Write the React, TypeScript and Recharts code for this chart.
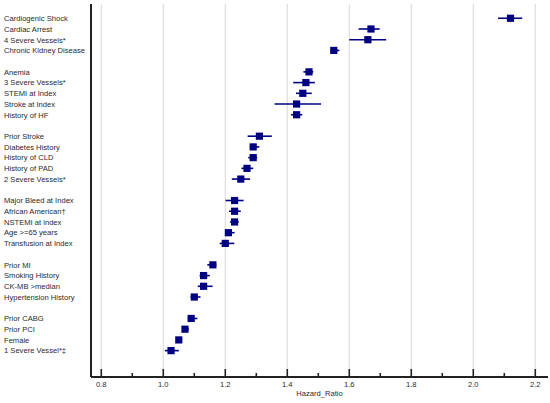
import React from 'react';
import { ScatterChart, Scatter, XAxis, YAxis, ErrorBar, ReferenceLine, Label } from 'recharts';

// predictors, top to bottom, in the blocks the plot separates with a blank row
const groups: string[][] = [
  ['Cardiogenic Shock', 'Cardiac Arrest', '4 Severe Vessels*', 'Chronic Kidney Disease'],
  ['Anemia', '3 Severe Vessels*', 'STEMI at Index', 'Stroke at Index', 'History of HF'],
  ['Prior Stroke', 'Diabetes History', 'History of CLD', 'History of PAD', '2 Severe Vessels*'],
  ['Major Bleed at Index', 'African American\u2020', 'NSTEMI at index', 'Age >=65 years', 'Transfusion at Index'],
  ['Prior MI', 'Smoking History', 'CK-MB >median', 'Hypertension History'],
  ['Prior CABG', 'Prior PCI', 'Female', '1 Severe Vessel*\u2021'],
];

const hazardRatio = [
  2.12, 1.67, 1.66, 1.55,
  1.47, 1.46, 1.45, 1.43, 1.43,
  1.31, 1.29, 1.29, 1.27, 1.25,
  1.23, 1.23, 1.23, 1.21, 1.2,
  1.16, 1.13, 1.13, 1.1,
  1.09, 1.07, 1.05, 1.025,
];

const lowerCI = [
  2.08, 1.63, 1.6, 1.54,
  1.452, 1.419, 1.428, 1.359, 1.412,
  1.272, 1.28, 1.274, 1.252, 1.221,
  1.201, 1.212, 1.215, 1.199, 1.182,
  1.142, 1.117, 1.111, 1.088,
  1.079, 1.061, 1.041, 1.005,
];

const upperCI = [
  2.158, 1.698, 1.719, 1.568,
  1.484, 1.489, 1.479, 1.509, 1.448,
  1.35, 1.31, 1.303, 1.29, 1.28,
  1.259, 1.25, 1.243, 1.23, 1.229,
  1.171, 1.15, 1.159, 1.12,
  1.11, 1.082, 1.059, 1.05,
];

const majorTicks = [0.8, 1.0, 1.2, 1.4, 1.6, 1.8, 2.0, 2.2];
const minorTicks = [0.9, 1.1, 1.3, 1.5, 1.7, 1.9, 2.1];

const FONT = '"Liberation Sans", Arial, sans-serif';
const NAVY = '#000080';

const data: { name: string; row: number; hr: number; ci: number[] }[] = [];
{
  let row = 0;
  let i = 0;
  groups.forEach((g) => {
    g.forEach((name) => {
      data.push({ name, row, hr: hazardRatio[i], ci: [hazardRatio[i] - lowerCI[i], upperCI[i] - hazardRatio[i]] });
      row++;
      i++;
    });
    row++;
  });
}

const labelByRow: Record<number, string> = {};
data.forEach((d) => (labelByRow[d.row] = d.name));

const allTicks = [...majorTicks, ...minorTicks].sort((a, b) => a - b);

const YTick = (props: any) => {
  const { y, payload } = props;
  return (
    <text x={4} y={y} dy={2.8} textAnchor="start" fontSize={7.6} fontFamily={FONT} fill="#2a2a2a">
      {labelByRow[payload.value]}
    </text>
  );
};

const XTick = (props: any) => {
  const { x, y, payload } = props;
  const major = majorTicks.some((t) => Math.abs(t - payload.value) < 1e-6);
  return (
    <g>
      <line x1={x} x2={x} y1={y} y2={y - (major ? 8 : 4)} stroke="#222" strokeWidth={1.6} />
      {major && (
        <text x={x} y={y + 10} textAnchor="middle" fontSize={7.6} fontFamily={FONT} fill="#2a2a2a">
          {payload.value.toFixed(1)}
        </text>
      )}
    </g>
  );
};

const Square = (props: any) => {
  const { cx, cy } = props;
  return <rect x={cx - 3.6} y={cy - 3.6} width={7.2} height={7.2} fill={NAVY} />;
};

export default function App() {
  return (
    <div style={{ position: 'absolute', left: 0, top: 0, background: '#fff' }}>
      <ScatterChart width={550} height={403} margin={{ top: 4, right: 2, bottom: 0, left: 0 }}>
        <XAxis
          type="number"
          dataKey="hr"
          domain={[0.7668, 2.241]}
          allowDataOverflow
          ticks={allTicks}
          interval={0}
          tickLine={false}
          tickSize={0}
          tickMargin={0}
          height={26}
          axisLine={{ stroke: '#222', strokeWidth: 2 }}
          tick={<XTick />}
        >
          <Label value="Hazard_Ratio" position="insideBottom" offset={7} fontSize={7.6} fontFamily={FONT} fill="#2a2a2a" />
        </XAxis>
        <YAxis
          type="number"
          dataKey="row"
          domain={[-1.33, 33.46]}
          allowDataOverflow
          reversed
          ticks={data.map((d) => d.row)}
          interval={0}
          tickLine={false}
          width={91}
          axisLine={{ stroke: '#222', strokeWidth: 2 }}
          tick={<YTick />}
        />
        {majorTicks.map((t) => (
          <ReferenceLine key={t} x={t} stroke="#dedede" strokeWidth={1.2} ifOverflow="visible" />
        ))}
        <Scatter data={data} shape={<Square />} isAnimationActive={false}>
          <ErrorBar dataKey="ci" direction="x" width={0} stroke={NAVY} strokeWidth={1.6} />
        </Scatter>
      </ScatterChart>
    </div>
  );
}
